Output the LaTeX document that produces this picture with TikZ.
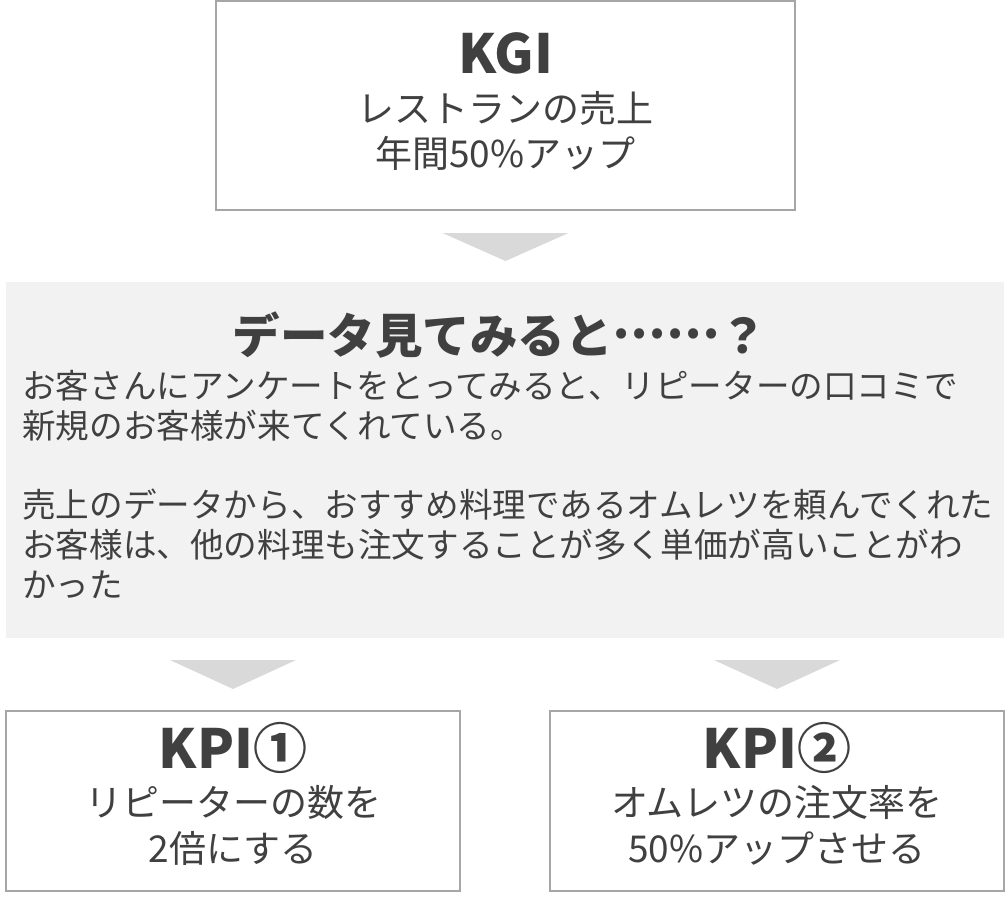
\documentclass[tikz,border=0pt]{standalone}
\usepackage{fontspec}
\setmainfont{Noto Sans CJK JP}
\usetikzlibrary{calc}
\definecolor{txt}{HTML}{404040}
\definecolor{boxline}{HTML}{A6A6A6}
\definecolor{panel}{HTML}{F2F2F2}
\definecolor{arrowgray}{HTML}{D9D9D9}
\tikzset{
  box/.style={draw=boxline, line width=2pt, fill=white, inner sep=0pt},
  panelbox/.style={fill=panel, draw=none, inner sep=0pt},
  tri/.style={fill=arrowgray, draw=none},
  ttl/.style={anchor=base, inner sep=0pt, text=txt, font=\bfseries\fontsize{54}{62}\selectfont},
  sub/.style={anchor=base, inner sep=0pt, text=txt, font=\fontsize{37}{44}\selectfont},
  dttl/.style={anchor=base, inner sep=0pt, text=txt, font=\bfseries\fontsize{47.5}{56}\selectfont},
  body/.style={anchor=base west, inner sep=0pt, text=txt, font=\fontsize{33.6}{40}\selectfont},
}
\begin{document}
\begin{tikzpicture}[x=1pt,y=-1pt]
\useasboundingbox (0,0) rectangle (1008,899);
% boxes
\node[box, minimum width=579pt, minimum height=209pt] (kgi) at (505.5,105.5) {};
\node[panelbox, minimum width=998pt, minimum height=356pt] (data) at (505,460) {};
\node[box, minimum width=454pt, minimum height=180pt] (kpi1) at (233,801) {};
\node[box, minimum width=454pt, minimum height=180pt] (kpi2) at (777,801) {};
% arrows
\fill[tri] ($(kgi.south)+(-63,22)$) -- ($(kgi.south)+(63,22)$) -- ($(kgi.south)+(0,50)$) -- cycle;
\fill[tri] ($(kpi1.north)+(-63,-50)$) -- ($(kpi1.north)+(63,-50)$) -- ($(kpi1.north)+(0,-21)$) -- cycle;
\fill[tri] ($(kpi2.north)+(-63,-50)$) -- ($(kpi2.north)+(63,-50)$) -- ($(kpi2.north)+(0,-21)$) -- cycle;
% KGI text
\node[ttl] (kgit) at (505.5,73) {KGI};
\node[sub] (kgi1) at (505.5,122) {レストランの売上};
\node[sub] (kgi2) at (505.5,167) {年間50\%アップ};
% data text
\node[dttl] (dt) at (500,353) {データ見てみると\raisebox{0.3em}{……}？};
\node[body] (b1) at (22,398) {お客さんにアンケートをとってみると、リピーターの口コミで};
\node[body] (b2) at (22,438) {新規のお客様が来てくれている。};
\node[body] (b4) at (22,517) {売上のデータから、おすすめ料理であるオムレツを頼んでくれた};
\node[body] (b5) at (22,557) {お客様は、他の料理も注文することが多く単価が高いことがわ};
\node[body] (b6) at (22,597) {かった};
% KPI text
\node[ttl] (k1t) at (233,768) {KPI①};
\node[sub] (k1a) at (233,816) {リピーターの数を};
\node[sub] (k1b) at (233,862) {2倍にする};
\node[ttl] (k2t) at (777,768) {KPI②};
\node[sub] (k2a) at (777,816) {オムレツの注文率を};
\node[sub] (k2b) at (777,862) {50\%アップさせる};
\end{tikzpicture}
\end{document}
